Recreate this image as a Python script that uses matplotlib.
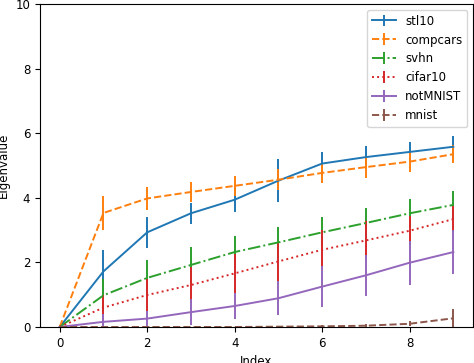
import numpy as np
import matplotlib
matplotlib.use("Agg")
import matplotlib.pyplot as plt

index = np.arange(10)

stl10 = [0, 1.72, 2.93, 3.52, 3.94, 4.53, 5.06, 5.26, 5.42, 5.58]
stl10_err = [0.05, 0.66, 0.47, 0.33, 0.38, 0.67, 0.37, 0.34, 0.32, 0.32]

compcars = [0, 3.53, 3.98, 4.18, 4.37, 4.56, 4.77, 4.95, 5.12, 5.35]
compcars_err = [0.05, 0.52, 0.36, 0.31, 0.32, 0.33, 0.30, 0.33, 0.31, 0.28]

svhn = [0, 0.98, 1.52, 1.92, 2.32, 2.62, 2.93, 3.22, 3.52, 3.78]
svhn_err = [0.03, 0.50, 0.55, 0.55, 0.50, 0.47, 0.48, 0.45, 0.43, 0.43]

cifar10 = [0, 0.60, 0.99, 1.30, 1.66, 2.03, 2.39, 2.68, 2.98, 3.34]
cifar10_err = [0.03, 0.40, 0.50, 0.55, 0.60, 0.60, 0.60, 0.60, 0.45, 0.40]

notmnist = [0, 0.16, 0.26, 0.46, 0.65, 0.89, 1.25, 1.60, 1.99, 2.32]
notmnist_err = [0.02, 0.25, 0.22, 0.40, 0.40, 0.52, 0.63, 0.63, 0.68, 0.68]

mnist = [0, 0, 0, 0, 0, 0.01, 0.02, 0.04, 0.10, 0.27]
mnist_err = [0, 0.01, 0.01, 0.01, 0.01, 0.02, 0.03, 0.04, 0.08, 0.30]

series = [
    ("stl10", stl10, stl10_err, "-"),
    ("compcars", compcars, compcars_err, "--"),
    ("svhn", svhn, svhn_err, "-."),
    ("cifar10", cifar10, cifar10_err, ":"),
    ("notMNIST", notmnist, notmnist_err, "-"),
    ("mnist", mnist, mnist_err, "--"),
]

plt.rcParams["font.size"] = 8.5
fig = plt.figure(figsize=(4.74, 3.63), dpi=100)
ax = fig.add_axes([40 / 474, 36 / 363, 433 / 474, 323 / 363])

for nom, y, err, ls in series:
    ax.errorbar(index, y, yerr=err, linestyle=ls, label=nom, linewidth=1.4)

ax.set_ylim(0, 10)
ax.set_xlabel("Index")
ax.set_ylabel("Eigenvalue")
ax.legend(loc="upper right")

fig.savefig("out.png", dpi=100)
